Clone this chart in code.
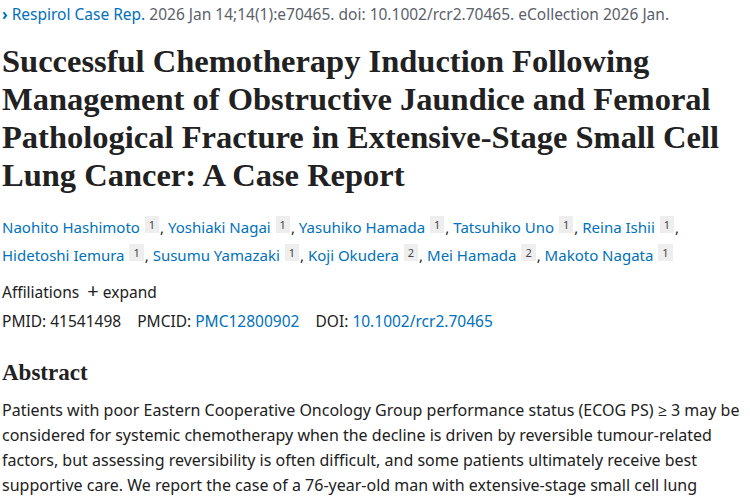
<!DOCTYPE html>
<html>
<head>
<script src="https://cdn.jsdelivr.net/npm/chart.js"></script>
<style>
body{margin:0;padding:0 0 0 2px;width:750px;height:500px;overflow:hidden;background:#fff;color:#212121;font-family:"Noto Sans","Open Sans",sans-serif;font-size:15.5px}
a{color:#0071bc;text-decoration:none}
.cite{margin-top:2px;line-height:24px;color:#5b616b}
.cite .chev{color:#0071bc;font-weight:bold;margin-right:4px}
h1{font-family:"Liberation Serif","DejaVu Serif",serif;font-size:32.5px;line-height:38px;margin:16px 0 18px 0;font-weight:bold;color:#212121}
.authors{line-height:26px;font-size:15px}
sup{font-size:11px;background:#eee;color:#444;padding:1px 4px;vertical-align:4px;margin:0 1px}
.row{line-height:26px;margin-top:10px}
.row2{line-height:26px;margin-top:3px}
h2{font-family:"Liberation Serif",serif;font-size:23px;font-weight:bold;margin:26px 0 12px 0}
p{margin:0;line-height:25px;font-size:16px;padding-right:8px}
</style>
</head>
<body>
<div class="cite"><span class="chev">&#8250;</span><a>Respirol Case Rep.</a> 2026 Jan 14;14(1):e70465. doi: 10.1002/rcr2.70465. eCollection 2026 Jan.</div>
<h1>Successful Chemotherapy Induction Following Management of Obstructive Jaundice and Femoral Pathological Fracture in Extensive&#8209;Stage Small Cell Lung Cancer: A Case Report</h1>
<div class="authors" id="authors"></div>
<div class="row">Affiliations &nbsp;<b style="font-weight:normal;font-size:20px">+</b> expand</div>
<div class="row2">PMID: 41541498 &nbsp;&nbsp; PMCID: <a>PMC12800902</a> &nbsp;&nbsp; DOI: <a>10.1002/rcr2.70465</a></div>
<h2>Abstract</h2>
<p>Patients with poor Eastern Cooperative Oncology Group performance status (ECOG PS) ≥ 3 may be considered for systemic chemotherapy when the decline is driven by reversible tumour-related factors, but assessing reversibility is often difficult, and some patients ultimately receive best supportive care. We report the case of a 76-year-old man with extensive-stage small cell lung cancer</p>
<script>
const authorNames = ['Naohito Hashimoto','Yoshiaki Nagai','Yasuhiko Hamada','Tatsuhiko Uno','Reina Ishii','Hidetoshi Iemura','Susumu Yamazaki','Koji Okudera','Mei Hamada','Makoto Nagata'];
const authorAffil = [1,1,1,1,1,1,1,2,2,1];
document.getElementById('authors').innerHTML = authorNames.map((n,i) =>
  '<a>' + n + '</a> <sup>' + authorAffil[i] + '</sup>' + (i === 4 ? ',<br>' : (i < authorNames.length-1 ? ', ' : ''))).join('');
</script>
</body>
</html>
